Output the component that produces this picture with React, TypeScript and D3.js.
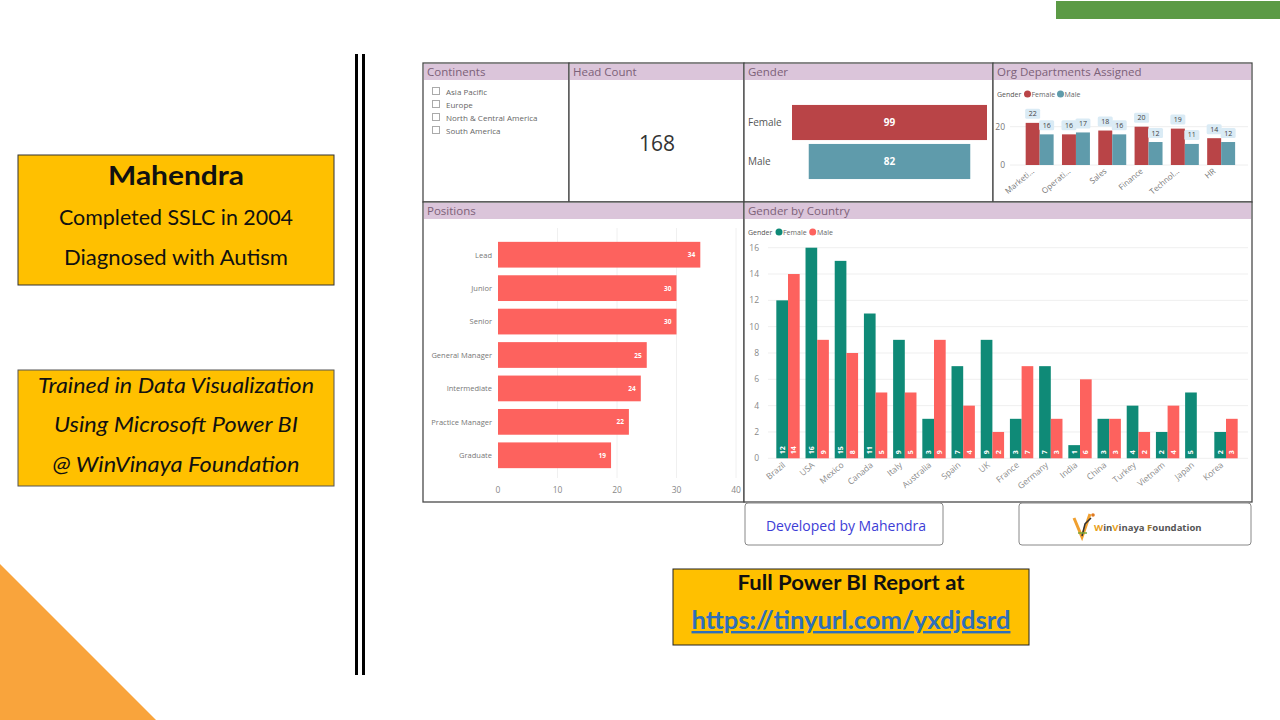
import React from "react";
import * as d3 from "d3";

// slide data
const continents = ["Asia Pacific", "Europe", "North & Central America", "South America"];
const headCount = 168;
const genders = ["Female", "Male"];
const genderCounts = [99, 82];
const departments = ["Marketi…", "Operati…", "Sales", "Finance", "Technol…", "HR"];
const deptFemale = [22, 16, 18, 20, 19, 14];
const deptMale = [16, 17, 16, 12, 11, 12];
const deptTicks = [0, 20];
const positions = ["Lead", "Junior", "Senior", "General Manager", "Intermediate", "Practice Manager", "Graduate"];
const positionCounts = [34, 30, 30, 25, 24, 22, 19];
const positionTicks = [0, 10, 20, 30, 40];
const countries = ["Brazil", "USA", "Mexico", "Canada", "Italy", "Australia", "Spain", "UK", "France", "Germany", "India", "China", "Turkey", "Vietnam", "Japan", "Korea"];
const countryFemale = [12, 16, 15, 11, 9, 3, 7, 9, 3, 7, 1, 3, 4, 2, 5, 2];
const countryMale = [14, 9, 8, 5, 5, 9, 4, 2, 7, 3, 6, 3, 2, 4, null, 3];
const countryTicks = [0, 2, 4, 6, 8, 10, 12, 14, 16];

const PBI = "'Segoe UI', 'Open Sans', sans-serif";
const SLIDE = "Lato, 'Open Sans', sans-serif";
const RED = "#fd625e";
const TEAL = "#0f8a77";
const DRED = "#b94447";
const DBLUE = "#5f9bab";

const Panel = ({ x, y, w, h, title }) => (
  <g>
    <rect x={x} y={y} width={w} height={h} fill="#fff" stroke="#4a4a4a" strokeWidth={1.3} />
    <rect x={x + 1} y={y + 1} width={w - 2} height={16} fill="#dbc5da" />
    <text x={x + 4} y={y + 13} fontSize={11.5} fill="#7b6178" fontFamily={PBI}>{title}</text>
  </g>
);

const Continents = () => (
  <g fontFamily={PBI}>
    <Panel x={423} y={63} w={146} h={139} title="Continents" />
    {continents.map((c, i) => (
      <g key={c}>
        <rect x={432.5} y={87.5 + i * 13} width={7} height={7} fill="#fff" stroke="#aaa" />
        <text x={446} y={94.5 + i * 13} fontSize={8} fill="#666">{c}</text>
      </g>
    ))}
  </g>
);

const HeadCount = () => (
  <g>
    <Panel x={569} y={63} w={175} h={139} title="Head Count" />
    <text x={657} y={151} textAnchor="middle" fontSize={21} fill="#333" fontFamily={PBI}>{headCount}</text>
  </g>
);

const GenderFunnel = () => {
  const cx = 889.5;
  const w = d3.scaleLinear().domain([0, d3.max(genderCounts)]).range([0, 195]);
  const y = d3.scaleBand().domain(genders).range([103, 181]).paddingInner(0.1).paddingOuter(0.05);
  const colors = [DRED, DBLUE];
  return (
    <g fontFamily={PBI}>
      <Panel x={744} y={63} w={249} h={139} title="Gender" />
      {genders.map((g, i) => (
        <g key={g}>
          <text x={748} y={y(g) + y.bandwidth() / 2 + 3.5} fontSize={10} fill="#555">{g}</text>
          <rect x={cx - w(genderCounts[i]) / 2} y={y(g)} width={w(genderCounts[i])} height={y.bandwidth()} fill={colors[i]} />
          <text x={cx} y={y(g) + y.bandwidth() / 2 + 3.5} textAnchor="middle" fontSize={10} fontWeight="bold" fill="#fff">{genderCounts[i]}</text>
        </g>
      ))}
    </g>
  );
};

const OrgDepartments = () => {
  const x = d3.scaleBand().domain(departments).range([1021.5, 1239.3]).paddingInner(0.23).paddingOuter(0.115);
  const sub = d3.scaleBand().domain(genders).range([0, x.bandwidth()]);
  const y = d3.scaleLinear().domain([0, 20]).range([165, 126.7]);
  const series = [deptFemale, deptMale];
  const colors = [DRED, DBLUE];
  return (
    <g fontFamily={PBI}>
      <Panel x={993} y={63} w={259} h={139} title="Org Departments Assigned" />
      <text x={997} y={96.5} fontSize={7} fill="#555">Gender</text>
      <circle cx={1027.5} cy={94} r={3.5} fill={DRED} />
      <text x={1031.5} y={96.5} fontSize={7} fill="#666">Female</text>
      <circle cx={1060.5} cy={94} r={3.5} fill={DBLUE} />
      <text x={1064.5} y={96.5} fontSize={7} fill="#666">Male</text>
      {deptTicks.map((t) => (
        <g key={t}>
          <line x1={1010} x2={1248} y1={y(t)} y2={y(t)} stroke="#eeeeee" />
          <text x={1005} y={y(t) + 3} textAnchor="end" fontSize={8.5} fill="#777">{t}</text>
        </g>
      ))}
      {departments.map((d, i) => (
        <g key={d}>
          {series.map((s, k) => {
            const bx = x(d) + sub(genders[k]);
            const v = s[i];
            return (
              <g key={k}>
                <rect x={bx} y={y(v)} width={sub.bandwidth()} height={y(0) - y(v)} fill={colors[k]} />
                <rect x={bx + sub.bandwidth() / 2 - 7.5} y={y(v) - 14} width={15} height={10} rx={1.5} fill="#daebf5" />
                <text x={bx + sub.bandwidth() / 2} y={y(v) - 6.5} textAnchor="middle" fontSize={7} fill="#444">{v}</text>
              </g>
            );
          })}
          <text
            transform={`translate(${x(d) + x.bandwidth() / 2 - 5},${172}) rotate(-40)`}
            textAnchor="end"
            fontSize={8}
            fill="#777"
          >
            {d}
          </text>
        </g>
      ))}
    </g>
  );
};

const Positions = () => {
  const y = d3.scaleBand().domain(positions).range([238, 472]).paddingInner(0.23).paddingOuter(0.115);
  const x = d3.scaleLinear().domain([0, 40]).range([498, 736]);
  return (
    <g fontFamily={PBI}>
      <Panel x={423} y={202} w={321} h={300} title="Positions" />
      {positionTicks.map((t) => (
        <g key={t}>
          {t > 0 && <line x1={x(t)} x2={x(t)} y1={228} y2={478} stroke="#f0f0f0" />}
          <text x={x(t)} y={493} textAnchor="middle" fontSize={8.5} fill="#888">{t}</text>
        </g>
      ))}
      {positions.map((p, i) => (
        <g key={p}>
          <text x={492} y={y(p) + y.bandwidth() / 2 + 2.8} textAnchor="end" fontSize={7.5} fill="#777">{p}</text>
          <rect x={x(0)} y={y(p)} width={x(positionCounts[i]) - x(0)} height={y.bandwidth()} fill={RED} />
          <text x={x(positionCounts[i]) - 5} y={y(p) + y.bandwidth() / 2 + 2.5} textAnchor="end" fontSize={6.5} fontWeight="bold" fill="#fff">
            {positionCounts[i]}
          </text>
        </g>
      ))}
    </g>
  );
};

const GenderByCountry = () => {
  const x = d3.scaleBand().domain(countries).range([773.4, 1240.6]).paddingInner(0.2).paddingOuter(0.1);
  const sub = d3.scaleBand().domain(genders).range([0, x.bandwidth()]);
  const y = d3.scaleLinear().domain([0, 16]).range([458.3, 247.7]);
  const series = [countryFemale, countryMale];
  const colors = [TEAL, RED];
  return (
    <g fontFamily={PBI}>
      <Panel x={744} y={202} w={508} h={300} title="Gender by Country" />
      <text x={748} y={234.5} fontSize={7} fill="#555">Gender</text>
      <circle cx={779} cy={232} r={3.5} fill={TEAL} />
      <text x={783} y={234.5} fontSize={7} fill="#666">Female</text>
      <circle cx={812.7} cy={232} r={3.5} fill={RED} />
      <text x={817} y={234.5} fontSize={7} fill="#666">Male</text>
      {countryTicks.map((t) => (
        <g key={t}>
          <line x1={768} x2={1248} y1={y(t)} y2={y(t)} stroke="#efefef" />
          <text x={759} y={y(t) + 3} textAnchor="end" fontSize={8.5} fill="#888">{t}</text>
        </g>
      ))}
      {countries.map((c, i) => (
        <g key={c}>
          {series.map((s, k) => {
            const v = s[i];
            if (v == null) return null;
            const bx = x(c) + sub(genders[k]);
            return (
              <g key={k}>
                <rect x={bx} y={y(v)} width={sub.bandwidth()} height={y(0) - y(v)} fill={colors[k]} />
                <text
                  transform={`translate(${bx + sub.bandwidth() / 2 + 2.5},${y(0) - 4}) rotate(-90)`}
                  fontSize={7}
                  fontWeight="bold"
                  fill="#fff"
                >
                  {v}
                </text>
              </g>
            );
          })}
          <text
            transform={`translate(${x(c) + x.bandwidth() / 2 - 2},${466}) rotate(-40)`}
            textAnchor="end"
            fontSize={8.5}
            fill="#888"
          >
            {c}
          </text>
        </g>
      ))}
    </g>
  );
};

const Footer = () => (
  <g>
    <rect x={745} y={503} width={198} height={42} rx={3} fill="#fff" stroke="#888" />
    <text x={846} y={531} textAnchor="middle" fontSize={14} fill="#3d3dd6" fontFamily={PBI}>Developed by Mahendra</text>
    <rect x={1019} y={503} width={232} height={42} rx={3} fill="#fff" stroke="#888" />
    {/* little logo figure */}
    <path d="M1074,518 L1082,537 L1090,514" fill="none" stroke="#f0a030" strokeWidth={3} />
    <path d="M1082,536 L1085,524 L1091,518" fill="none" stroke="#333" strokeWidth={1.5} />
    <circle cx={1093} cy={515} r={1.8} fill="#e07a20" />
    <path d="M1078,533 L1087,533" stroke="#7aa83a" strokeWidth={1.5} />
    <text x={1094} y={531} fontSize={9.5} fontWeight="bold" fill="#555" fontFamily={PBI}>
      <tspan fill="#e8a020">W</tspan>in<tspan fill="#e8a020">V</tspan>inaya <tspan fill="#a07828">F</tspan>oundation
    </text>
  </g>
);

const Slide = () => (
  <g fontFamily={SLIDE}>
    <rect x={0} y={0} width={1280} height={720} fill="#fff" />
    <rect x={1056} y={1} width={224} height={18} fill="#5b9a45" />
    <path d="M0,564 L156,720 L0,720 Z" fill="#f9a43c" />
    <rect x={355} y={54} width={3} height={621} fill="#000" />
    <rect x={362} y={54} width={3} height={621} fill="#000" />

    <rect x={18} y={155} width={316} height={130} fill="#ffc000" stroke="#333" />
    <text x={176} y={185} textAnchor="middle" fontSize={27} fontWeight="bold" fill="#111" textLength={136} lengthAdjust="spacingAndGlyphs">Mahendra</text>
    <text x={176} y={225} textAnchor="middle" fontSize={21} fill="#111" textLength={234} lengthAdjust="spacingAndGlyphs">Completed SSLC in 2004</text>
    <text x={176} y={265} textAnchor="middle" fontSize={21} fill="#111" textLength={224} lengthAdjust="spacingAndGlyphs">Diagnosed with Autism</text>

    <rect x={18} y={370} width={316} height={116} fill="#ffc000" stroke="#555" />
    <text x={176} y={393} textAnchor="middle" fontSize={21} fontStyle="italic" fill="#111" textLength={276} lengthAdjust="spacingAndGlyphs">Trained in Data Visualization</text>
    <text x={176} y={432} textAnchor="middle" fontSize={21} fontStyle="italic" fill="#111" textLength={244} lengthAdjust="spacingAndGlyphs">Using Microsoft Power BI</text>
    <text x={176} y={472} textAnchor="middle" fontSize={21} fontStyle="italic" fill="#111" textLength={247} lengthAdjust="spacingAndGlyphs">@ WinVinaya Foundation</text>

    <rect x={673} y={569} width={356} height={76} fill="#ffc000" stroke="#222" />
    <text x={851} y={590} textAnchor="middle" fontSize={20} fontWeight="bold" fill="#111" textLength={227} lengthAdjust="spacingAndGlyphs">Full Power BI Report at</text>
    <text x={851} y={629} textAnchor="middle" fontSize={24} fontWeight="bold" fill="#2e6fba" textDecoration="underline" textLength={319} lengthAdjust="spacingAndGlyphs">https://tinyurl.com/yxdjdsrd</text>
  </g>
);

export default function App() {
  return (
    <div style={{ position: "absolute", left: 0, top: 0 }}>
      <svg width={1280} height={720} style={{ display: "block" }}>
        <Slide />
        <Continents />
        <HeadCount />
        <GenderFunnel />
        <OrgDepartments />
        <Positions />
        <GenderByCountry />
        <Footer />
      </svg>
    </div>
  );
}
